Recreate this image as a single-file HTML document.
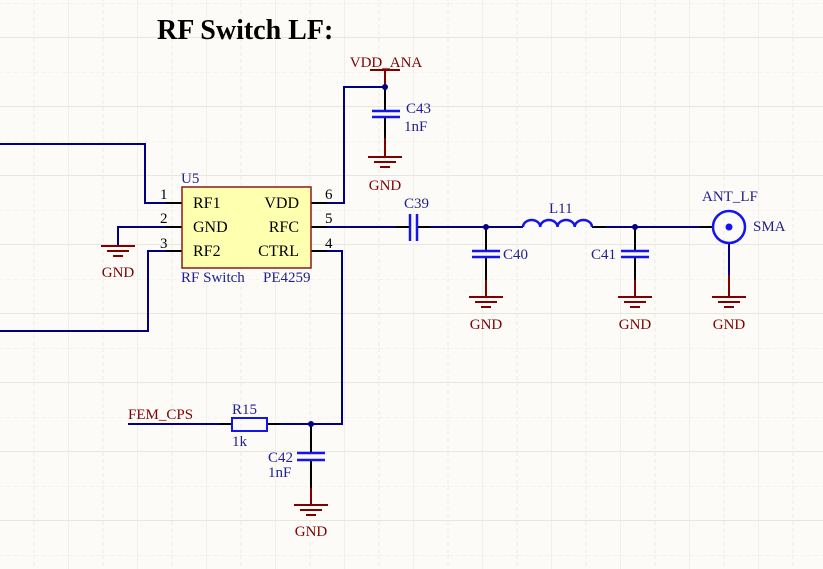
<!DOCTYPE html>
<html><head><meta charset="utf-8"><style>
html,body{margin:0;padding:0;background:#fcfbf7;}
svg{display:block;font-family:"Liberation Serif",serif;}
</style></head><body>
<svg width="823" height="569" viewBox="0 0 823 569" xmlns="http://www.w3.org/2000/svg">
<defs>
<pattern id="g" x="-0.5" y="3" width="69" height="69" patternUnits="userSpaceOnUse">
<line x1="34.5" y1="0" x2="34.5" y2="69" stroke="#ecebe6" stroke-width="1" stroke-dasharray="4,3"/>
<line x1="0" y1="0" x2="69" y2="0" stroke="#ecebe6" stroke-width="1" stroke-dasharray="4,3"/>
<line x1="69" y1="0" x2="69" y2="69" stroke="#e8e6e0" stroke-width="1"/>
<line x1="0" y1="34.5" x2="69" y2="34.5" stroke="#e8e6e0" stroke-width="1"/>
</pattern>
<g id="gnd" stroke="#800000" stroke-width="2">
<line x1="-17" y1="0" x2="17" y2="0"/>
<line x1="-11" y1="5" x2="11" y2="5"/>
<line x1="-5" y1="10" x2="5" y2="10"/>
</g>
</defs>
<rect width="823" height="569" fill="url(#g)"/>

<text x="157" y="39" font-size="28" font-weight="bold" fill="#000">RF Switch LF:</text>

<g stroke="#000080" stroke-width="2" fill="none">
<polyline points="0,144 145,144 145,203 166,203"/>
<polyline points="166,227 118,227 118,246"/>
<polyline points="166,251 148,251 148,331 0,331"/>
<polyline points="327,203 344,203 344,87 385,87"/>
<polyline points="327,227 400,227"/>
<polyline points="426,227 523,227"/>
<polyline points="592,227 712,227"/>
<polyline points="327,251 342,251 342,424 311,424 275,424"/>
<polyline points="128,424 220,424"/>
<line x1="729" y1="244" x2="729" y2="275"/>
</g>
<g stroke="#000" stroke-width="2">
<line x1="166" y1="203" x2="182" y2="203"/>
<line x1="166" y1="227" x2="182" y2="227"/>
<line x1="166" y1="251" x2="182" y2="251"/>
<line x1="311" y1="203" x2="327" y2="203"/>
<line x1="311" y1="227" x2="327" y2="227"/>
<line x1="311" y1="251" x2="327" y2="251"/>
<line x1="385" y1="87" x2="385" y2="110"/>
<line x1="385" y1="118" x2="385" y2="138"/>
<line x1="396" y1="227" x2="410" y2="227"/>
<line x1="417" y1="227" x2="430" y2="227"/>
<line x1="486" y1="227" x2="486" y2="251"/>
<line x1="486" y1="258" x2="486" y2="280"/>
<line x1="635" y1="227" x2="635" y2="251"/>
<line x1="635" y1="258" x2="635" y2="280"/>
<line x1="592" y1="227" x2="605" y2="227"/>
<line x1="700" y1="227" x2="713" y2="227"/>
<line x1="311" y1="424" x2="311" y2="453"/>
<line x1="311" y1="461" x2="311" y2="488"/>
<line x1="220" y1="424" x2="232" y2="424"/>
<line x1="267" y1="424" x2="280" y2="424"/>
</g>
<g stroke="#800000" stroke-width="2">
<line x1="385" y1="70" x2="385" y2="87"/>
<line x1="370" y1="70" x2="400" y2="70"/>
<line x1="385" y1="138" x2="385" y2="157"/>
<line x1="486" y1="280" x2="486" y2="297"/>
<line x1="635" y1="280" x2="635" y2="297"/>
<line x1="729" y1="275" x2="729" y2="297"/>
<line x1="311" y1="488" x2="311" y2="505"/>
</g>
<use href="#gnd" x="118" y="246"/>
<use href="#gnd" x="385" y="157"/>
<use href="#gnd" x="486" y="297"/>
<use href="#gnd" x="635" y="297"/>
<use href="#gnd" x="729" y="297"/>
<use href="#gnd" x="311" y="505"/>

<g fill="#000080">
<circle cx="385" cy="87" r="3"/>
<circle cx="486" cy="227" r="3"/>
<circle cx="635" cy="227" r="3"/>
<circle cx="311" cy="424" r="3"/>
</g>

<rect x="182" y="187" width="129" height="81" fill="#ffffb0" stroke="#8b1a1a" stroke-width="1.5"/>
<g font-size="16" fill="#000">
<text x="193" y="208">RF1</text>
<text x="193" y="232">GND</text>
<text x="193" y="256">RF2</text>
<text x="299" y="208" text-anchor="end">VDD</text>
<text x="299" y="232" text-anchor="end">RFC</text>
<text x="299" y="256" text-anchor="end">CTRL</text>
</g>
<g font-size="15" fill="#000">
<text x="160" y="199">1</text>
<text x="160" y="223">2</text>
<text x="160" y="248">3</text>
<text x="325" y="199">6</text>
<text x="325" y="223">5</text>
<text x="325" y="248">4</text>
</g>
<g font-size="15" fill="#1f1f8f">
<text x="181" y="183">U5</text>
<text x="181" y="282">RF Switch</text>
<text x="263" y="282">PE4259</text>
<text x="406" y="113">C43</text>
<text x="404" y="131">1nF</text>
<text x="404" y="208">C39</text>
<text x="503" y="259">C40</text>
<text x="591" y="259">C41</text>
<text x="549" y="213">L11</text>
<text x="702" y="201">ANT_LF</text>
<text x="753" y="231">SMA</text>
<text x="232" y="414">R15</text>
<text x="232" y="446">1k</text>
<text x="268" y="462">C42</text>
<text x="268" y="477">1nF</text>
</g>
<g font-size="15" fill="#800000">
<text x="386" y="67" text-anchor="middle">VDD_ANA</text>
<text x="385" y="190" text-anchor="middle">GND</text>
<text x="118" y="277" text-anchor="middle">GND</text>
<text x="486" y="329" text-anchor="middle">GND</text>
<text x="635" y="329" text-anchor="middle">GND</text>
<text x="729" y="329" text-anchor="middle">GND</text>
<text x="311" y="536" text-anchor="middle">GND</text>
<text x="128" y="419">FEM_CPS</text>
</g>

<g stroke="#1414f0" stroke-width="2.5" fill="none">
<line x1="372" y1="111" x2="400" y2="111"/>
<line x1="372" y1="117" x2="400" y2="117"/>
<line x1="410" y1="214" x2="410" y2="241"/>
<line x1="417" y1="214" x2="417" y2="241"/>
<line x1="472" y1="251" x2="500" y2="251"/>
<line x1="472" y1="257" x2="500" y2="257"/>
<line x1="621" y1="251" x2="649" y2="251"/>
<line x1="621" y1="257" x2="649" y2="257"/>
<line x1="297" y1="453" x2="325" y2="453"/>
<line x1="297" y1="460" x2="325" y2="460"/>
<rect x="232" y="418" width="35" height="13" stroke-width="2"/>
<path d="M523,227 a8.6,7 0 0 1 17.25,0 a8.6,7 0 0 1 17.25,0 a8.6,7 0 0 1 17.25,0 a8.6,7 0 0 1 17.25,0"/>
<circle cx="729" cy="227" r="16"/>
</g>
<circle cx="729" cy="227" r="3.5" fill="#1414f0"/>
</svg>
</body></html>
